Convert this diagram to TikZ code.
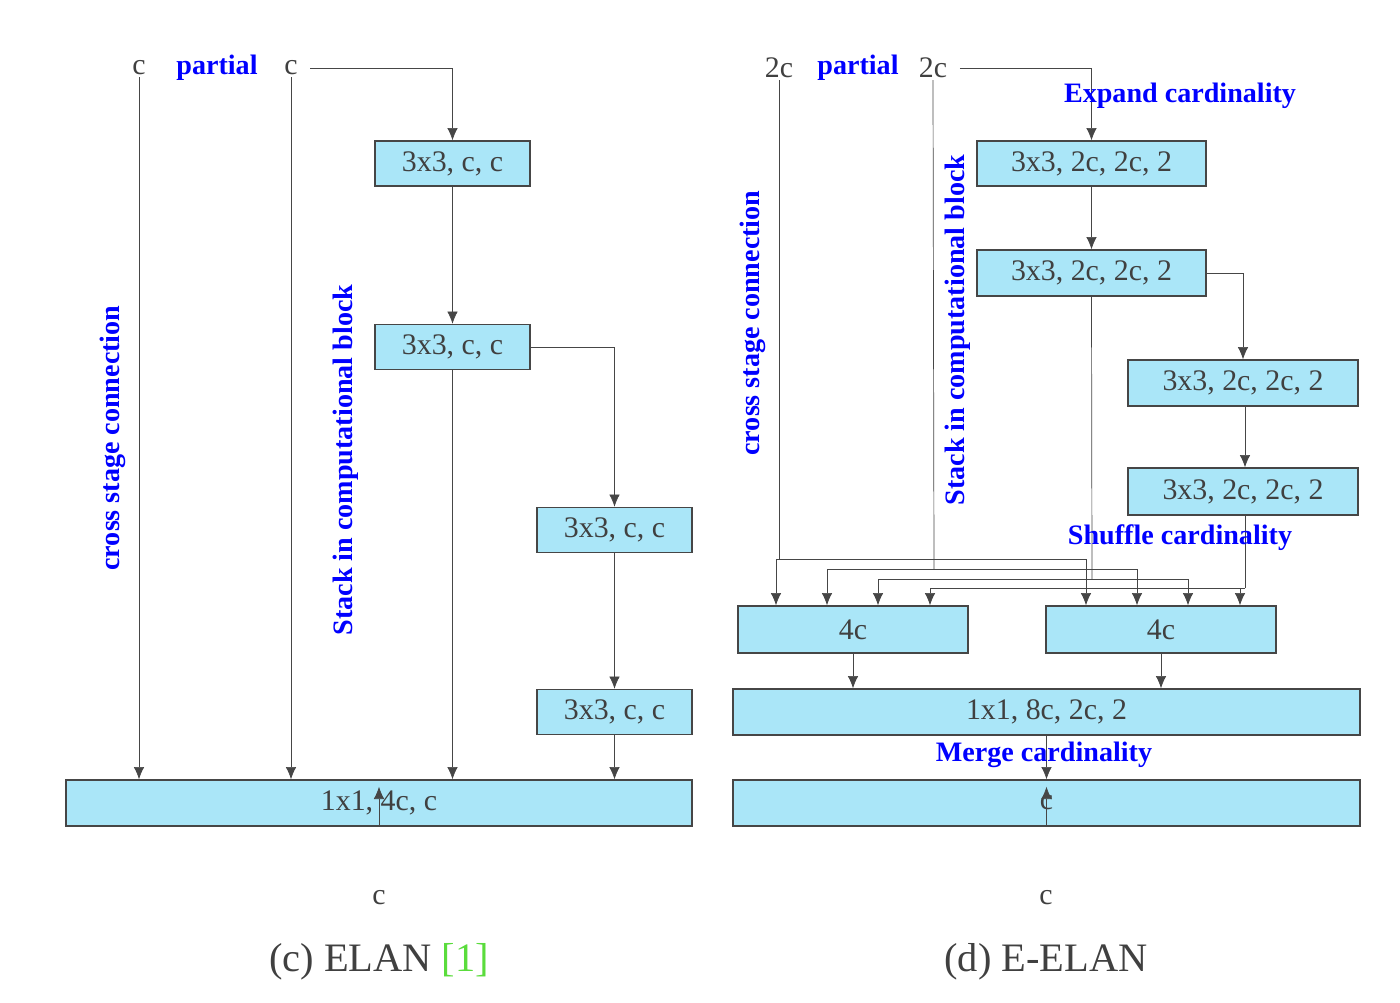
\documentclass[tikz,border=0pt]{standalone}
\usepackage{fontspec}
\setmainfont{Liberation Serif}
\usetikzlibrary{arrows.meta,positioning}
\definecolor{boxfill}{RGB}{170,230,248}
\definecolor{lineg}{RGB}{70,70,70}
\definecolor{refgreen}{RGB}{90,220,60}

\tikzset{
  blk/.style={draw=lineg,thick,fill=boxfill,inner sep=0pt,font=\fontsize{17}{20}\selectfont,text=black!75},
  lbl/.style={text=blue,font=\bfseries\fontsize{16}{19}\selectfont,inner sep=1pt},
  dim/.style={font=\fontsize{17}{20}\selectfont,text=black!75,inner sep=1pt},
  captxt/.style={font=\fontsize{23}{27}\selectfont,text=black!75},
  arr/.style={draw=lineg,-{Latex[length=7pt,width=6pt]}},
  ln/.style={draw=lineg}
}

\begin{document}
\begin{tikzpicture}[x=0.02cm,y=-0.02cm]
  \useasboundingbox (0,0) rectangle (1400,1002);

  % (c) ELAN
  \node[dim] (c1) at (139,68) {c};
  \node[lbl] (p1) at (217,68) {partial};
  \node[dim] (c2) at (291,68) {c};
  \node[blk,minimum width=3.1cm,minimum height=0.9cm] (b1) at (452.5,163.5) {3x3, c, c};
  \node[blk,minimum width=3.1cm,minimum height=0.9cm] (b2) at (452.5,347) {3x3, c, c};
  \node[blk,minimum width=3.1cm,minimum height=0.9cm] (b3) at (614.5,530) {3x3, c, c};
  \node[blk,minimum width=3.1cm,minimum height=0.9cm] (b4) at (614.5,712) {3x3, c, c};
  \node[blk,minimum width=12.52cm,minimum height=0.92cm] (base) at (379,803) {1x1, 4c, c};
  \node[dim] (out1) at (379,898) {c};
  \node[captxt] (capc) at (379,962) {(c) ELAN \textcolor{refgreen}{[1]}};
  \node[lbl,rotate=90] (csc1) at (113,438) {cross stage connection};
  \node[lbl,rotate=90] (sic1) at (346,460) {Stack in computational block};

  \coordinate (c2r) at (315,68);
  \draw[ln] (c2.east) ++(6pt,0) -- (c2r);
  \draw[arr] (c2r) -| (b1.north);
  \draw[arr] (c1.south) -- (c1.south |- base.north);
  \draw[arr] (c2.south) -- (c2.south |- base.north);
  \draw[arr] (b1) -- (b2);
  \draw[arr] (b2.south) -- (b2.south |- base.north);
  \draw[arr] (b2.east) -| (b3.north);
  \draw[arr] (b3) -- (b4);
  \draw[arr] (b4.south) -- (b4.south |- base.north);
  \draw[arr] (base.south) -- ++(0,-40);

  % (d) E-ELAN
  \node[dim] (d1) at (779,68) {2c};
  \node[lbl] (p2) at (858,68) {partial};
  \node[dim] (d2) at (933,68) {2c};
  \node[blk,minimum width=4.58cm,minimum height=0.9cm] (r1) at (1091.5,163.5) {3x3, 2c, 2c, 2};
  \node[blk,minimum width=4.58cm,minimum height=0.92cm] (r2) at (1091.5,273) {3x3, 2c, 2c, 2};
  \node[blk,minimum width=4.6cm,minimum height=0.92cm] (r3) at (1243,383) {3x3, 2c, 2c, 2};
  \node[blk,minimum width=4.6cm,minimum height=0.94cm] (r4) at (1243,491.5) {3x3, 2c, 2c, 2};
  \node[blk,minimum width=4.6cm,minimum height=0.94cm] (g1) at (853,629.5) {4c};
  \node[blk,minimum width=4.6cm,minimum height=0.94cm] (g2) at (1161,629.5) {4c};
  \node[blk,minimum width=12.54cm,minimum height=0.92cm] (mrg) at (1046.5,712) {1x1, 8c, 2c, 2};
  \node[blk,minimum width=12.54cm,minimum height=0.92cm] (cat) at (1046.5,803) {c};
  \node[dim] (out2) at (1046,898) {c};
  \node[captxt] (capd) at (1046,962) {(d) E-ELAN};
  \node[lbl,rotate=90] (csc2) at (753,323) {cross stage connection};
  \node[lbl,rotate=90] (sic2) at (958,330) {Stack in computational block};

  \coordinate (d2r) at (973,68);
  \coordinate (s1) at (779,559);
  \coordinate (s2) at (934,569);
  \coordinate (s3) at (1092,579);
  \coordinate (s4) at (1245,588);
  \draw[ln] (d2.east) ++(6pt,0) -- (d2r);
  \draw[arr] (d2r) -| (r1.north);
  \draw[arr] (r1) -- (r2);
  \draw[arr] (r2.east) -| (r3.north);
  \draw[arr] (r3.south -| s4) -- (r4.north -| s4);
  % shuffle
  \draw[ln] (d1.south) -- (s1);
  \draw[ln] (d2.south) -- (s2);
  \draw[ln] (r2.south) -- (s3);
  \draw[ln] (r4.south -| s4) -- (s4);
  \draw[ln] (776,559) -- (1086,559);
  \draw[arr] (776,559) -- (776,0 |- g1.north);
  \draw[arr] (s1) -| (1086,0 |- g2.north);
  \draw[arr] (s2) -| (827,0 |- g1.north);
  \draw[arr] (s2) -| (1137,0 |- g2.north);
  \draw[arr] (s3) -| (878,0 |- g1.north);
  \draw[arr] (s3) -| (1188,0 |- g2.north);
  \draw[arr] (s4) -| (930,0 |- g1.north);
  \draw[arr] (s4) -| (1240,0 |- g2.north);
  \draw[arr] (g1) -- (g1 |- mrg.north);
  \draw[arr] (g2) -- (g2 |- mrg.north);
  \draw[arr] (mrg.south) -- (cat.north);
  \draw[arr] (cat.south) -- ++(0,-40);

  \node[lbl] (exp) at (1180,96) {Expand cardinality};
  \node[lbl] (shf) at (1180,538) {Shuffle cardinality};
  \node[lbl] (mgc) at (1044,755) {Merge cardinality};
\end{tikzpicture}
\end{document}
